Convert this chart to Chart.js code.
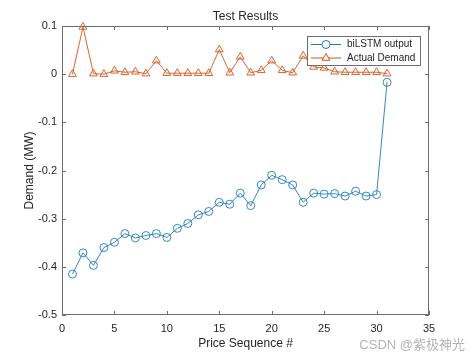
<!DOCTYPE html>
<html><head><meta charset="utf-8">
<script src="https://cdn.jsdelivr.net/npm/chart.js@4/dist/chart.umd.min.js"></script>
<style>
html,body{margin:0;padding:0;background:#fff;}
#wrap{position:relative;width:474px;height:355px;}
#wm{position:absolute;right:9px;top:334px;font:13px "Liberation Sans","Noto Sans CJK SC",sans-serif;color:#b4b4b4;white-space:nowrap;}
</style>
</head><body>
<div id="wrap"><canvas id="c" width="474" height="355"></canvas><div id="wm">CSDN @紫极神光</div></div>
<script>
const xValues = [1,2,3,4,5,6,7,8,9,10,11,12,13,14,15,16,17,18,19,20,21,22,23,24,25,26,27,28,29,30,31];
const bilstmOutput = [-0.415,-0.371,-0.397,-0.360,-0.349,-0.331,-0.340,-0.335,-0.331,-0.339,-0.320,-0.310,-0.292,-0.285,-0.266,-0.270,-0.247,-0.273,-0.230,-0.210,-0.219,-0.230,-0.266,-0.247,-0.249,-0.248,-0.253,-0.243,-0.253,-0.250,-0.017];
const actualDemand = [0.000,0.098,0.001,0.000,0.007,0.004,0.005,0.001,0.028,0.002,0.002,0.002,0.002,0.002,0.051,0.003,0.036,0.003,0.008,0.028,0.008,0.003,0.038,0.015,0.013,0.005,0.004,0.004,0.004,0.004,0.001];
const xTicks = [0,5,10,15,20,25,30,35];
const yTicks = [-0.5,-0.4,-0.3,-0.2,-0.1,0,0.1];
const seriesNames = ['biLSTM output','Actual Demand'];
const colors = ['#1f7bbf','#D95319'];

const FONT = '"Liberation Sans", Arial, sans-serif';
const AXIS = '#6e6e6e';
const TEXT = '#262626';

const frameAndLegend = {
  id: 'frameAndLegend',
  afterDraw(chart) {
    const {ctx, chartArea: a, scales} = chart;
    ctx.save();
    ctx.strokeStyle = AXIS;
    ctx.lineWidth = 1;
    ctx.strokeRect(Math.round(a.left) + 0.5, Math.round(a.top) + 0.5, Math.round(a.right - a.left) - 1, Math.round(a.bottom - a.top) - 1);
    const tl = 4;
    ctx.beginPath();
    xTicks.forEach(v => {
      const x = Math.round(scales.x.getPixelForValue(v)) + 0.5;
      ctx.moveTo(x, a.bottom); ctx.lineTo(x, a.bottom - tl);
      ctx.moveTo(x, a.top); ctx.lineTo(x, a.top + tl);
    });
    yTicks.forEach(v => {
      const y = Math.round(scales.y.getPixelForValue(v)) + 0.5;
      ctx.moveTo(a.left, y); ctx.lineTo(a.left + tl, y);
      ctx.moveTo(a.right, y); ctx.lineTo(a.right - tl, y);
    });
    ctx.stroke();

    // legend
    const bx = 307.5, by = 36.5, bw = 113, bh = 29;
    ctx.fillStyle = '#fff';
    ctx.fillRect(bx, by, bw, bh);
    ctx.strokeStyle = AXIS;
    ctx.strokeRect(bx, by, bw, bh);
    ctx.font = '10px ' + FONT;
    ctx.textBaseline = 'middle';
    chart.data.datasets.forEach((ds, i) => {
      const cy = 44 + i * 13.5;
      ctx.strokeStyle = ds.borderColor;
      ctx.lineWidth = 1;
      ctx.beginPath(); ctx.moveTo(311, cy + 0.5); ctx.lineTo(341, cy + 0.5); ctx.stroke();
      ctx.beginPath();
      if (ds.pointStyle === 'circle') {
        ctx.arc(326, cy + 0.5, 4, 0, Math.PI * 2);
      } else {
        const r = 4.5;
        ctx.moveTo(326, cy + 0.5 - r);
        ctx.lineTo(326 + r * 0.866, cy + 0.5 + r * 0.5);
        ctx.lineTo(326 - r * 0.866, cy + 0.5 + r * 0.5);
        ctx.closePath();
      }
      ctx.fillStyle = '#fff'; ctx.fill(); ctx.stroke();
      ctx.fillStyle = TEXT;
      ctx.fillText(ds.label, 347, cy + 0.5);
    });
    ctx.restore();
  }
};

new Chart(document.getElementById('c'), {
  type: 'line',
  data: {
    datasets: [
      { label: seriesNames[0], data: xValues.map((x, i) => ({x, y: bilstmOutput[i]})),
        borderColor: colors[0], backgroundColor: 'rgba(0,0,0,0)', borderWidth: 0.9,
        pointStyle: 'circle', pointRadius: 4, pointBorderWidth: 0.9, pointBackgroundColor: 'rgba(0,0,0,0)',
        tension: 0, clip: false },
      { label: seriesNames[1], data: xValues.map((x, i) => ({x, y: actualDemand[i]})),
        borderColor: colors[1], backgroundColor: 'rgba(0,0,0,0)', borderWidth: 0.9,
        pointStyle: 'triangle', pointRadius: 4.5, pointBorderWidth: 0.9, pointBackgroundColor: 'rgba(0,0,0,0)',
        tension: 0, clip: false }
    ]
  },
  options: {
    responsive: false,
    animation: false,
    layout: { padding: { left: 0, right: 45, top: 0, bottom: 0 } },
    plugins: {
      legend: { display: false },
      tooltip: { enabled: false },
      title: { display: true, text: 'Test Results', fullSize: false, color: TEXT,
        font: { family: FONT, size: 12, weight: 'normal', lineHeight: 1.2 },
        padding: { top: 9, bottom: 2.6 } }
    },
    scales: {
      x: {
        type: 'linear', min: 0, max: 35,
        afterFit: s => { s.height = 40; },
        afterBuildTicks: s => { s.ticks = xTicks.map(v => ({value: v})); },
        grid: { display: false, drawTicks: false },
        border: { display: false },
        ticks: { color: TEXT, font: { family: FONT, size: 11 }, padding: 7, maxRotation: 0 },
        title: { display: true, text: 'Price Sequence #', color: TEXT,
          font: { family: FONT, size: 12 }, padding: { top: 0, bottom: 4 } }
      },
      y: {
        type: 'linear', min: -0.5, max: 0.1,
        afterFit: s => { s.width = 62; },
        afterBuildTicks: s => { s.ticks = yTicks.map(v => ({value: v})); },
        grid: { display: false, drawTicks: false },
        border: { display: false },
        ticks: { color: TEXT, font: { family: FONT, size: 11 }, padding: 5,
          callback: v => (Math.abs(v) < 1e-9 ? '0' : String(Math.round(v * 10) / 10)) },
        title: { display: true, text: 'Demand (MW)', color: TEXT,
          font: { family: FONT, size: 12 }, padding: { top: 22, bottom: 0 } }
      }
    }
  },
  plugins: [frameAndLegend]
});
</script>
</body></html>
